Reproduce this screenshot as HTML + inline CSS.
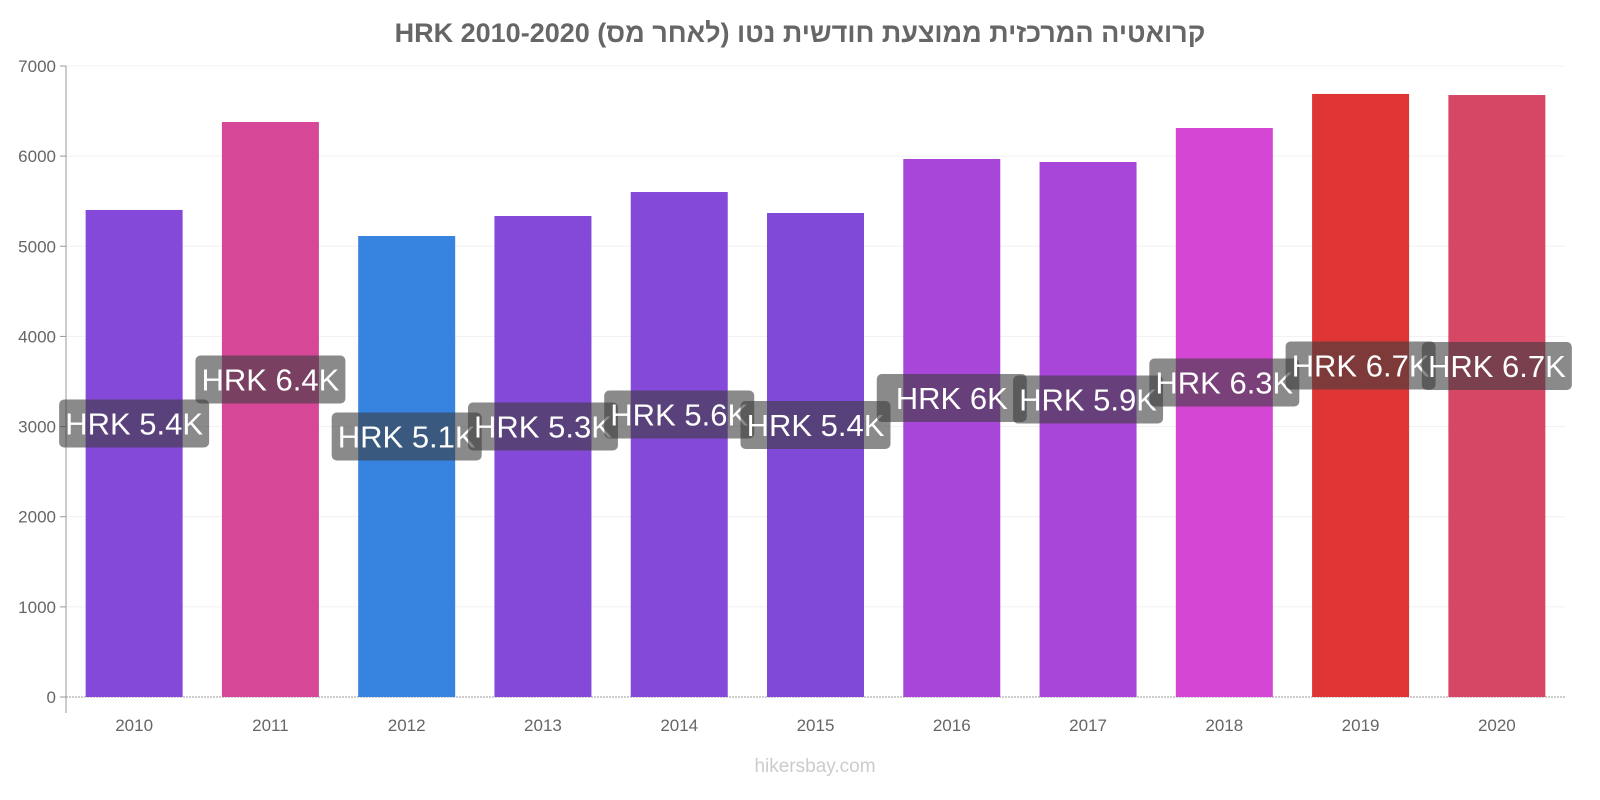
<!DOCTYPE html>
<html><head><meta charset="utf-8"><style>
html,body{margin:0;padding:0;background:#fff;font-family:"Liberation Sans",sans-serif;overflow:hidden;width:1600px;height:800px}
svg{display:block}
</style></head><body>
<svg id="chart" width="1600" height="800" viewBox="0 0 1600 800">
<text x="800" y="42" text-anchor="middle" direction="rtl" font-size="27" font-weight="bold" fill="#666" font-family="Liberation Sans, sans-serif">קרואטיה המרכזית ממוצעת חודשית נטו (לאחר מס) HRK 2010-2020</text>
<text x="815" y="772" text-anchor="middle" font-size="19" fill="#ccc">hikersbay.com</text>
<g id="grid"></g><g id="bars"></g><g id="labels"></g>
</svg>
<script>
const categories=["2010","2011","2012","2013","2014","2015","2016","2017","2018","2019","2020"];
const values=[5403,6379,5114,5336,5602,5369,5968,5935,6312,6690,6678];
const labels=["HRK 5.4K","HRK 6.4K","HRK 5.1K","HRK 5.3K","HRK 5.6K","HRK 5.4K","HRK 6K","HRK 5.9K","HRK 6.3K","HRK 6.7K","HRK 6.7K"];
const colors=["#8549d9","#d64798","#3684e0","#8549d9","#8549d9","#8049d8","#a846d9","#a846d9","#d646d4","#e03535","#d64766"];
const yTicks=[0,1000,2000,3000,4000,5000,6000,7000];
const NS="http://www.w3.org/2000/svg";
const x0=66,x1=1565,yb=697,yt=66,ymax=7000;
const bw=(x1-x0)/categories.length;
const y=v=>yb-(v/ymax)*(yb-yt);
const xc=i=>x0+bw*(i+0.5);
function mk(t,a,p){const e=document.createElementNS(NS,t);for(const k in a)e.setAttribute(k,a[k]);p.appendChild(e);return e;}
const G=document.getElementById('grid'),B=document.getElementById('bars'),L=document.getElementById('labels');
yTicks.forEach(v=>{
 const l=mk('line',{x1:x0,x2:x1,y1:y(v),y2:y(v),stroke:v?'#f0f0f0':'#999','stroke-dasharray':v?'':'2,1'},G);
 
 
 mk('line',{x1:x0-6,x2:x0,y1:y(v),y2:y(v),stroke:'#999'},G);
 const t=mk('text',{x:x0-10,y:y(v)+6,'text-anchor':'end','font-size':17,fill:'#666'},G);t.textContent=v;
 
 
});
const ax=mk('line',{x1:x0,x2:x0,y1:yt,y2:yb+16,stroke:'#999'},G);


categories.forEach((c,i)=>{
 const r=mk('rect',{x:xc(i)-48.5,y:y(values[i]),width:97,height:yb-y(values[i]),fill:colors[i]},B);
 
 
 const t=mk('text',{x:xc(i),y:731,'text-anchor':'middle','font-size':17,fill:'#666'},G);t.textContent=c;
 
 
 const cy=(y(values[i])+yb)/2-30;
 const bg=mk('rect',{x:xc(i)-75,y:cy-24,width:150,height:48,rx:5,fill:'rgba(60,60,60,0.6)'},L);
 
 
 const lt=mk('text',{x:xc(i),y:cy+11,'text-anchor':'middle','font-size':31,fill:'#fff'},L);lt.textContent=labels[i];
 
 
});
</script>
</body></html>
